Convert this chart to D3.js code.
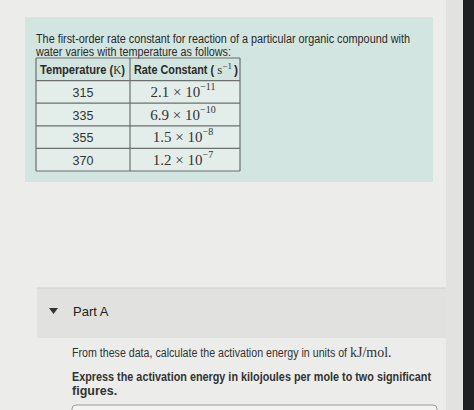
<!DOCTYPE html>
<html><head><meta charset="utf-8">
<script src="https://cdn.jsdelivr.net/npm/d3@7"></script>
<style>body{margin:0;background:#e9eae7;}svg{display:block}</style>
</head><body><svg id="c" width="474" height="410"></svg>
<script>
const temperatures = ["315","335","355","370"];
const mantissas = ["2.1","6.9","1.5","1.2"];
const exponents = ["−11","−10","−8","−7"];

const svg = d3.select("#c");
const sans = "Liberation Sans, Arial, sans-serif";
const serif = "Liberation Serif, Times New Roman, serif";
function fit(sel,len){return sel.attr("textLength",len).attr("lengthAdjust","spacingAndGlyphs");}
svg.append("rect").attr("x",0).attr("y",0).attr("width",474).attr("height",410).attr("fill","#ecedea");
svg.append("rect").attr("x",446).attr("y",0).attr("width",17).attr("height",410).attr("fill","#e2e3e0");
svg.append("rect").attr("x",463).attr("y",0).attr("width",11).attr("height",410).attr("fill","#1e2022");
svg.append("rect").attr("x",25).attr("y",17).attr("width",408).attr("height",165).attr("fill","#d3e5e0");
fit(svg.append("text").attr("x",36).attr("y",43).attr("font-family",sans).attr("font-size",12.5).attr("fill","#2a2a2a")
  .text("The first-order rate constant for reaction of a particular organic compound with"),374);
fit(svg.append("text").attr("x",36).attr("y",56).attr("font-family",sans).attr("font-size",12.5).attr("fill","#2a2a2a")
  .text("water varies with temperature as follows:"),195);
const colX = [36,130,240];
const rowsY = d3.scaleBand().domain(["h",...temperatures]).range([58,171]);
const tbl = svg.append("g");
tbl.append("rect").attr("x",36).attr("y",81).attr("width",204).attr("height",90).attr("fill","#e3eeeb");
const lines = tbl.append("g").attr("stroke","#6b6f6e").attr("stroke-width",1.2);
["h",...temperatures].forEach(k=>lines.append("line").attr("x1",36).attr("x2",240).attr("y1",rowsY(k)).attr("y2",rowsY(k)));
lines.append("line").attr("x1",36).attr("x2",240).attr("y1",171).attr("y2",171);
colX.forEach(cx=>lines.append("line").attr("x1",cx).attr("x2",cx).attr("y1",58).attr("y2",171));
const hy = rowsY("h")+rowsY.bandwidth()/2+4.5;
const h1 = fit(tbl.append("text").attr("x",40).attr("y",hy).attr("font-family",sans).attr("font-weight","bold").attr("font-size",12).attr("fill","#2a2a2a"),85);
h1.append("tspan").text("Temperature (");
h1.append("tspan").attr("font-family",serif).attr("font-weight","normal").text("K");
h1.append("tspan").text(")");
const h2 = tbl.append("text").attr("x",134).attr("y",hy).attr("font-family",sans).attr("font-weight","bold").attr("font-size",12).attr("fill","#2a2a2a");
fit(h2.append("tspan"),80).text("Rate Constant (");
h2.append("tspan").attr("font-family",serif).attr("font-weight","normal").attr("font-size",13).text(" s");
h2.append("tspan").attr("font-family",serif).attr("font-weight","normal").attr("font-size",9).attr("dy",-5).text("−1");
h2.append("tspan").attr("dx",2).attr("dy",5).text(")");
temperatures.forEach((t,i)=>{
  const cy = rowsY(t)+rowsY.bandwidth()/2+5;
  tbl.append("text").attr("x",83).attr("y",cy).attr("text-anchor","middle").attr("font-family",sans).attr("font-size",12.5).attr("fill","#333").text(t);
  const r = tbl.append("text").attr("x",183).attr("y",cy).attr("text-anchor","middle").attr("font-family",serif).attr("font-size",15).attr("fill","#333");
  r.append("tspan").text(mantissas[i]+" × 10");
  r.append("tspan").attr("font-size",10).attr("dy",-7).text(exponents[i]);
});
svg.append("rect").attr("x",37).attr("y",288).attr("width",409).attr("height",50).attr("fill","#e1e2df");
svg.append("line").attr("x1",37).attr("x2",446).attr("y1",288).attr("y2",288).attr("stroke","#d2d3d0");
svg.append("path").attr("d",d3.line()([[49,308],[58,308],[53.5,314]])+"Z").attr("fill","#333");
svg.append("text").attr("x",73).attr("y",316).attr("font-family",sans).attr("font-size",13).attr("fill","#222").text("Part A");
const q = svg.append("text").attr("x",72).attr("y",357).attr("font-family",sans).attr("font-size",12.5).attr("fill","#333");
fit(q.append("tspan"),278).text("From these data, calculate the activation energy in units of ");
q.append("tspan").attr("font-family",serif).attr("font-size",14).text("kJ/mol.");
fit(svg.append("text").attr("x",72).attr("y",381).attr("font-family",sans).attr("font-weight","bold").attr("font-size",12.5).attr("fill","#333")
  .text("Express the activation energy in kilojoules per mole to two significant"),359);
svg.append("text").attr("x",72).attr("y",395).attr("font-family",sans).attr("font-weight","bold").attr("font-size",12.5).attr("fill","#333").text("figures.");
svg.append("rect").attr("x",72).attr("y",405).attr("width",365).attr("height",20).attr("rx",4).attr("fill","#f3f3f1").attr("stroke","#9a9c9a");
</script></body></html>
